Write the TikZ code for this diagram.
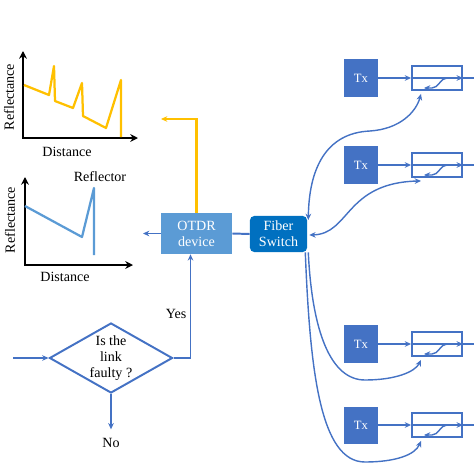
\documentclass[tikz,border=0pt]{standalone}
\usepackage{fontspec}
\setmainfont{Liberation Serif}
\usetikzlibrary{shapes.geometric,arrows.meta}

\definecolor{lineblue}{HTML}{4472C4}
\definecolor{otdrblue}{HTML}{5B9BD5}
\definecolor{swblue}{HTML}{0070C0}
\definecolor{traceyellow}{HTML}{FFC000}

\tikzset{
  tip/.style={-{Stealth[length=4.5pt,width=4pt]}},
  flow/.style={draw=lineblue, line width=1pt, tip},
  dflow/.style={draw=lineblue, line width=1pt, {Stealth[length=4.5pt,width=4pt]}-{Stealth[length=4.5pt,width=4pt]}},
  axes/.style={line width=1.4pt, {Stealth[length=5.5pt,width=5.5pt]}-{Stealth[length=5.5pt,width=5.5pt]}},
  txbox/.style={fill=lineblue, text=white, minimum width=0.85cm, minimum height=0.925cm, inner sep=0pt, font=\small},
  cplbox/.style={draw=lineblue, line width=1.3pt, minimum width=1.25cm, minimum height=0.6cm, inner sep=0pt},
}

\begin{document}
\begin{tikzpicture}[x=0.025cm, y=-0.025cm, font=\fontsize{10}{11.5}\selectfont]
\useasboundingbox (0,0) rectangle (474,474);

% trace with several faults
\draw[axes] (23,51) -- (23,138) -- (138,138);
\draw[traceyellow, line width=1.6pt, line join=round] (24,85) -- (49,95) -- (54,66) -- (55,101) -- (73,108) -- (82,83) -- (83,116) -- (106,128) -- (121,80) -- (121,137);
\node[rotate=90] (refl1) at (9,97) {Reflectance};
\node (dist1) at (67,152) {Distance};

% trace with reflector
\draw[axes] (25,177) -- (25,265) -- (133,265);
\draw[otdrblue, line width=1.6pt, line join=round] (25,206) -- (82,237) -- (94,188) -- (94,255);
\node (reflector) at (100,177) {Reflector};
\node[rotate=90] (refl2) at (10,220) {Reflectance};
\node (dist2) at (65,277) {Distance};

% OTDR and switch
\node[fill=otdrblue, text=white, minimum width=1.775cm, minimum height=1.025cm, align=center] (otdr) at (196.5,233.5) {OTDR\\device};
\node[fill=swblue, text=white, rounded corners=3pt, minimum width=1.425cm, minimum height=0.9cm, inner sep=1pt, align=center] (switch) at (278.5,234) {Fiber\\Switch};
\draw[lineblue, line width=1.4pt] (otdr.east) -- (switch.west);
\coordinate (left) at (143,236);
\draw[flow] (otdr.west) -- (otdr.west -| left);
\coordinate (ytip) at (161,119);
\draw[traceyellow, line width=1.6pt, tip] (otdr.north) |- (ytip);

% decision
\node[draw=lineblue, line width=1.4pt, diamond, aspect=1.75, minimum width=3.075cm, minimum height=1.75cm, inner sep=0pt, align=center] (faulty) at (111,358) {Is the\\link\\faulty ?};
\coordinate (start) at (13,358);
\draw[flow] (start) -- (faulty.west);
\node (no) at (111,443) {No};
\draw[flow] (faulty.south) -- ([shift={(0,-4)}]no.north);
\draw[flow] (faulty.east) -| ([shift={(-6,0)}]otdr.south);
\node (yes) at (176,314) {Yes};

% transmitters and couplers
\foreach \i/\y in {1/78, 2/165, 3/344, 4/425} {
  \node[txbox] (tx\i) at (361,\y) {Tx};
  \node[cplbox] (cpl\i) at (437,\y) {};
  \coordinate (out\i) at (474,\y);
  \draw[flow] (tx\i) -- (cpl\i.west);
  \draw[flow] (cpl\i.west) -- (cpl\i.east);
  \draw[lineblue, line width=1pt] (cpl\i.east) -- (out\i);
  \draw[flow] ([shift={(10,0)}]cpl\i.center) .. controls +(-7,0) and +(7,0) .. ([shift={(-5,10)}]cpl\i.center) -- ([shift={(-13,10)}]cpl\i.center);
}

% fibres from the switch
\draw[dflow] ([shift={(1,-14)}]switch.east) .. controls (309,170) and (325,133) .. (370,131) .. controls (400,129) and (416,112) .. ([shift={(-16,3)}]cpl1.south);
\draw[dflow] ([shift={(2,1)}]switch.east) .. controls (350,234) and (345,183) .. ([shift={(-16,3)}]cpl2.south);
\draw[flow] ([shift={(1,0)}]switch.south east) .. controls (312,330) and (330,380) .. (365,380) .. controls (395,380) and (415,372) .. ([shift={(-16,3)}]cpl3.south);
\draw[flow] ([shift={(-2,0)}]switch.south east) .. controls (310,370) and (320,462) .. (365,462) .. controls (395,462) and (415,455) .. ([shift={(-16,3)}]cpl4.south);
\end{tikzpicture}
\end{document}
